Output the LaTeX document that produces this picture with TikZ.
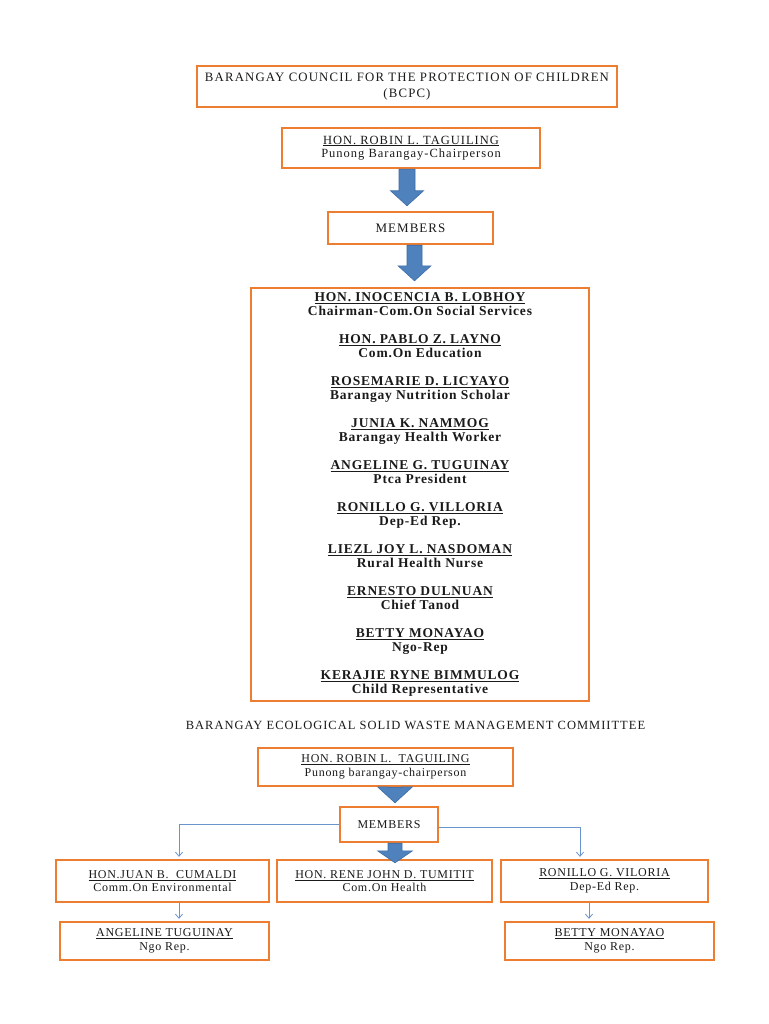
\documentclass[tikz,border=0pt]{standalone}
\usepackage{fontspec}
\setmainfont{Liberation Serif}
\usetikzlibrary{calc,arrows.meta}
\definecolor{borange}{HTML}{ED7D31}
\definecolor{ablue}{HTML}{4F81BD}
\definecolor{ablueline}{HTML}{3C6DA8}
\definecolor{lblue}{HTML}{6A95CC}
\definecolor{txt}{HTML}{1A1A1A}
\newcommand{\blockarr}[5]{%
  \filldraw[blockarrow] let \p1=(#1), \p2=(#2) in
    (\x1-#3,\y1) -- (\x1+#3,\y1) -- (\x1+#3,\y2+#5) -- (\x1+#4,\y2+#5) --
    (\x1,\y2) -- (\x1-#4,\y2+#5) -- (\x1-#3,\y2+#5) -- cycle;}
\tikzset{
  box/.style={draw=borange, line width=2.4pt, fill=white, inner sep=0pt, align=center, text=txt},
  regtext/.style={font=\fontsize{12.5}{15.5}\selectfont\addfontfeature{LetterSpace=8}},
  titletext/.style={font=\fontsize{12.8}{16}\selectfont\addfontfeature{LetterSpace=9}},
  memtext/.style={font=\fontsize{13}{15}\selectfont\addfontfeature{LetterSpace=8}},
  smalltext/.style={font=\fontsize{12}{13.5}\selectfont\addfontfeature{LetterSpace=6}},
  boldtext/.style={font=\fontsize{13.5}{14}\selectfont\bfseries\addfontfeature{LetterSpace=6}},
  blockarrow/.style={fill=ablue, draw=ablueline, line width=0.6pt},
  conn/.style={draw=lblue, line width=0.8pt, -{Straight Barb[length=4pt,width=7pt]}},
}
\begin{document}
\begin{tikzpicture}[x=1pt,y=-1pt]
\useasboundingbox[fill=white] (0,0) rectangle (768,1024);

% ---- BCPC section ----
\node[box, titletext, minimum width=420, minimum height=41] (title) at (407,86.5)
  {BARANGAY COUNCIL FOR THE PROTECTION OF CHILDREN\\(BCPC)};
\node[box, regtext, minimum width=258, minimum height=40] (robin) at (411,148)
  {\underline{HON. ROBIN L. TAGUILING}\\[-2pt]Punong Barangay-Chairperson};
\node[box, memtext, minimum width=165, minimum height=32] (members) at (410.5,228)
  {MEMBERS};
\node[box, boldtext, minimum width=338, minimum height=413] (council) at (420,494.5)
  {\underline{HON. INOCENCIA B. LOBHOY}\\ Chairman-Com.On Social Services\\[14pt]
   \underline{HON. PABLO Z. LAYNO}\\ Com.On Education\\[14pt]
   \underline{ROSEMARIE D. LICYAYO}\\ Barangay Nutrition Scholar\\[14pt]
   \underline{JUNIA K. NAMMOG}\\ Barangay Health Worker\\[14pt]
   \underline{ANGELINE G. TUGUINAY}\\ Ptca President\\[14pt]
   \underline{RONILLO G. VILLORIA}\\ Dep-Ed Rep.\\[14pt]
   \underline{LIEZL JOY L. NASDOMAN}\\ Rural Health Nurse\\[14pt]
   \underline{ERNESTO DULNUAN}\\ Chief Tanod\\[14pt]
   \underline{BETTY MONAYAO}\\ Ngo-Rep\\[14pt]
   \underline{KERAJIE RYNE BIMMULOG}\\ Child Representative};

\blockarr{[xshift=-4pt]robin.south}{[yshift=5pt]members.north}{8pt}{16.5pt}{15pt}
\blockarr{[xshift=4pt]members.south}{[yshift=6pt]council.north}{7.5pt}{16.5pt}{15pt}

% ---- Solid waste section ----
\node[regtext, text=txt] (swtitle) at (415.5,725)
  {BARANGAY ECOLOGICAL SOLID WASTE MANAGEMENT COMMIITTEE};
\node[box, smalltext, minimum width=255, minimum height=38] (robin2) at (385.5,767)
  {\underline{HON. ROBIN L.\ \ TAGUILING}\\Punong barangay-chairperson};
\node[box, smalltext, minimum width=98, minimum height=35] (members2) at (389,824.5)
  {MEMBERS};
\node[box, smalltext, minimum width=213, minimum height=42] (left) at (162.5,881)
  {\underline{HON.JUAN B.\ \ CUMALDI}\\Comm.On Environmental};
\node[box, smalltext, minimum width=215, minimum height=42] (middle) at (384.5,881)
  {\underline{HON. RENE JOHN D. TUMITIT}\\Com.On Health};
\node[box, smalltext, minimum width=207, minimum height=42] (right) at (604.5,881)
  {\underline{RONILLO G. VILORIA}\\Dep-Ed Rep.};
\node[box, smalltext, minimum width=209, minimum height=38] (ll) at (164.5,941)
  {\underline{ANGELINE TUGUINAY}\\Ngo Rep.};
\node[box, smalltext, minimum width=209, minimum height=38] (rr) at (609.5,941)
  {\underline{BETTY MONAYAO}\\Ngo Rep.};

\blockarr{[xshift=9.5pt]robin2.south}{[yshift=3pt]members2.north}{7pt}{17.5pt}{16pt}
\blockarr{[xshift=6pt]members2.south}{[yshift=-4pt]middle.north}{7pt}{17.5pt}{12pt}

\draw[conn] (members2.west) -| ([xshift=16.5pt,yshift=2pt]left.north);
\draw[conn] ([yshift=-2.5pt]members2.east) -| ([xshift=-24.5pt,yshift=2pt]right.north);
\draw[conn] ([xshift=16.5pt]left.south) -- ([xshift=16.5pt,yshift=2pt]left.south |- ll.north);
\draw[conn] ([xshift=-15.5pt]right.south) -- ([xshift=-15.5pt,yshift=2pt]right.south |- rr.north);
\end{tikzpicture}
\end{document}
